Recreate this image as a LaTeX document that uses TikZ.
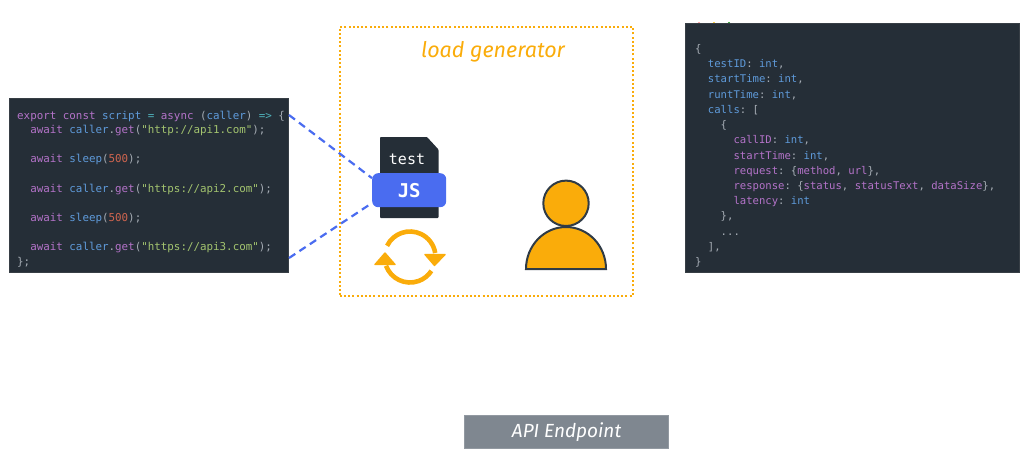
\documentclass[tikz,border=0pt]{standalone}
\usepackage{fontspec}
\setmonofont{DejaVu Sans Mono}
\setmainfont{Fira Sans}
\usetikzlibrary{calc}
\definecolor{panel}{HTML}{252E37}
\definecolor{kw}{HTML}{B473C9}
\definecolor{fnc}{HTML}{5F9BDB}
\definecolor{str}{HTML}{A3C46F}
\definecolor{num}{HTML}{D0654F}
\definecolor{opr}{HTML}{4FAFB8}
\definecolor{pln}{HTML}{A6ADB5}
\definecolor{orangeg}{HTML}{FAAC0A}
\definecolor{bluejs}{HTML}{4A6CF0}
\definecolor{inkd}{HTML}{2F3B46}
\definecolor{apifill}{HTML}{7F8790}
\newcommand{\K}[1]{\textcolor{kw}{#1}}
\newcommand{\F}[1]{\textcolor{fnc}{#1}}
\newcommand{\Sg}[1]{\textcolor{str}{#1}}
\newcommand{\N}[1]{\textcolor{num}{#1}}
\newcommand{\Op}[1]{\textcolor{opr}{#1}}
\newcommand{\Ind}[1]{\hspace*{#1\fontcharwd\font`x}}
\tikzset{
  x=1pt,y=-1pt,
  panelbox/.style={fill=panel,draw=panel!80!gray,line width=.6pt,anchor=north west,inner sep=0pt},
  codeleft/.style={anchor=north west,inner sep=0pt,align=left,text=pln,font=\ttfamily\fontsize{10.85}{14.6}\selectfont},
  coderight/.style={anchor=north west,inner sep=0pt,align=left,text=pln,font=\ttfamily\fontsize{10.6}{15.22}\selectfont},
  dashline/.style={draw=bluejs,line width=2.2pt,dash pattern=on 7.5pt off 5pt},
  syncarc/.style={draw=orangeg,line width=4.6pt},
  synctip/.style={fill=orangeg,draw=orangeg,line width=1.4pt,line join=round},
  persons/.style={fill=orangeg,draw=inkd,line width=2pt},
}
\begin{document}
\begin{tikzpicture}
\useasboundingbox (0,0) rectangle (1032,455);
% left code panel
\node[panelbox,minimum width=279pt,minimum height=173.5pt] (codeL) at (8.7,98.2) {};
\node[codeleft] (codeLtext) at (17,110.5) {%
\K{export} \K{const} \F{script} \Op{=} \K{async} (\F{caller}) \Op{=>} \{\\
\Ind{2}\K{await} \F{caller}.\K{get}(\Sg{"http://api1.com"});\\
\mbox{}\\
\Ind{2}\K{await} \F{sleep}(\N{500});\\
\mbox{}\\
\Ind{2}\K{await} \F{caller}.\K{get}(\Sg{"https://api2.com"});\\
\mbox{}\\
\Ind{2}\K{await} \F{sleep}(\N{500});\\
\mbox{}\\
\Ind{2}\K{await} \F{caller}.\K{get}(\Sg{"https://api3.com"});\\
\};};
% right code panel with the clipped window dots
\fill[red!45!white] (699,23.4) circle (1.5pt);
\fill[yellow!50!orange] (714,23.4) circle (1.5pt);
\fill[green!55!black] (729,23.4) circle (1.5pt);
\node[panelbox,minimum width=334pt,minimum height=248.5pt] (codeR) at (684.7,23.2) {};
\node[coderight] (codeRtext) at (695,44.3) {%
\{\\
\Ind{2}\F{testID}: \F{int},\\
\Ind{2}\F{startTime}: \F{int},\\
\Ind{2}\F{runtTime}: \F{int},\\
\Ind{2}\F{calls}: [\\
\Ind{4}\{\\
\Ind{6}\K{callID}: \F{int},\\
\Ind{6}\K{startTime}: \F{int},\\
\Ind{6}\K{request}: \{\K{method}, \K{url}\},\\
\Ind{6}\K{response}: \{\K{status}, \K{statusText}, \K{dataSize}\},\\
\Ind{6}\K{latency}: \F{int}\\
\Ind{4}\},\\
\Ind{4}...\\
\Ind{2}],\\
\}};
% load generator
\node[draw=orangeg,line width=1.6pt,dash pattern=on 2pt off 2.2pt,anchor=north west,minimum width=293pt,minimum height=269pt,inner sep=0pt] (gen) at (339,26) {};
\node[inner sep=0pt,text=orangeg,font=\itshape\fontsize{21.5}{24}\selectfont] (genlabel) at (493,52) {load generator};
% file icon
\fill[panel,rounded corners=.8pt] (380,137) -- (427,137) -- (438.5,149.5) -- (438.5,218) -- (380,218) -- cycle;
\node[text=white,inner sep=0pt,font=\ttfamily\fontsize{15}{18}\selectfont] (testlabel) at (407,159) {test};
\node[fill=bluejs,rounded corners=6pt,anchor=north west,minimum width=74pt,minimum height=34pt,inner sep=0pt,text=white,font=\ttfamily\bfseries\fontsize{19}{20}\selectfont] (js) at (372,173) {JS};
% connectors
\coordinate (lt) at (289,115);
\coordinate (lb) at (289,258);
\draw[dashline] (lt) -- (js.162);
\draw[dashline] (lb) -- (js.199);
% sync icon
\coordinate (sc) at (410,257);
\draw[syncarc] ($(sc)+(154:25.5pt)$) arc[start angle=154,end angle=9,radius=25.5pt];
\draw[syncarc] ($(sc)+(200:25.5pt)$) arc[start angle=200,end angle=327,radius=25.5pt];
\fill[synctip] (425,254.5) -- (445,254.5) -- (434.5,265.5) -- cycle;
\fill[synctip] (375,264.5) -- (395,264.5) -- (385,253) -- cycle;
% person
\draw[persons] (526,269) arc[start angle=180,end angle=0,x radius=40pt,y radius=42pt] -- cycle;
\node[circle,persons,minimum size=45.4pt,inner sep=0pt] (head) at (566,203.3) {};
% API endpoint
\node[fill=apifill,draw=apifill!85!white,line width=.6pt,anchor=north west,minimum width=204pt,minimum height=33pt,inner sep=0pt,text=white,font=\itshape\fontsize{19}{22}\selectfont] (api) at (464.3,415.3) {API Endpoint};
\end{tikzpicture}
\end{document}
